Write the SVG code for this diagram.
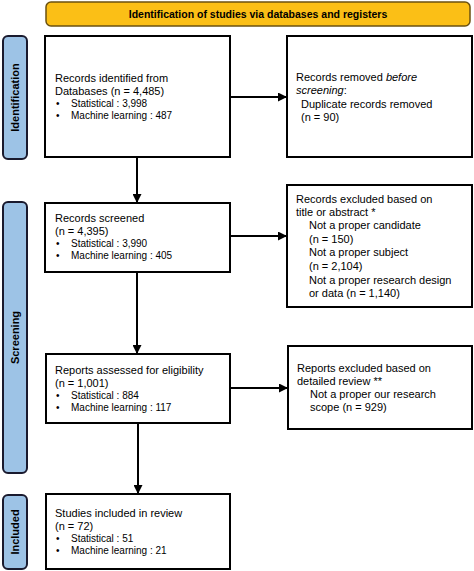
<svg xmlns="http://www.w3.org/2000/svg" width="474" height="571" viewBox="0 0 474 571">
<style>
.box{fill:#fff;stroke:#000;stroke-width:2}
.side{fill:#9DC3E6;stroke:#1a1a2e;stroke-width:2}
.t{font-family:"Liberation Sans",Arial,sans-serif;font-size:11px;fill:#000}
.s{font-family:"Liberation Sans",Arial,sans-serif;font-size:10px;fill:#000}
.b{font-family:"Liberation Sans",Arial,sans-serif;font-weight:bold;fill:#000}
.c{stroke:#000;stroke-width:2;fill:none}
</style>
<defs>
<marker id="ah" viewBox="0 0 10 10" refX="10" refY="5" markerWidth="4.5" markerHeight="4.5" orient="auto" markerUnits="strokeWidth">
<path d="M0,0 L10,5 L0,10 z" fill="#000"/>
</marker>
</defs>
<rect width="474" height="571" fill="#fff"/>
<g id="banner">
<rect x="46" y="2" width="424" height="24" rx="5" fill="#FBBF16" stroke="#6b5210" stroke-width="1.5"/>
<text class="b" x="258" y="18" font-size="10.5" text-anchor="middle">Identification of studies via databases and registers</text>
</g>
<g id="side-identification">
<rect class="side" x="3" y="36" width="24" height="123" rx="5"/>
<text class="b" font-size="11" transform="translate(19,97.5) rotate(-90)" text-anchor="middle">Identification</text>
</g>
<g id="side-screening">
<rect class="side" x="3" y="202" width="24" height="271" rx="5"/>
<text class="b" font-size="11" transform="translate(19,337.5) rotate(-90)" text-anchor="middle">Screening</text>
</g>
<g id="side-included">
<rect class="side" x="3" y="495" width="24" height="74" rx="5"/>
<text class="b" font-size="11" transform="translate(19,532) rotate(-90)" text-anchor="middle">Included</text>
</g>
<g id="connectors">
<line class="c" x1="230" y1="97" x2="287" y2="97" marker-end="url(#ah)"/>
<line class="c" x1="137" y1="157" x2="137" y2="203" marker-end="url(#ah)"/>
<line class="c" x1="230" y1="236" x2="287" y2="236" marker-end="url(#ah)"/>
<line class="c" x1="137" y1="272" x2="137" y2="354" marker-end="url(#ah)"/>
<line class="c" x1="230" y1="388" x2="288" y2="388" marker-end="url(#ah)"/>
<line class="c" x1="138" y1="423" x2="138" y2="494" marker-end="url(#ah)"/>
</g>
<g id="identified">
<rect class="box" x="45" y="36" width="185" height="121"/>
<text class="t" x="55" y="82">Records identified from</text>
<text class="t" x="55" y="95">Databases (n = 4,485)</text>
<text class="s" x="56" y="107">•</text><text class="s" x="71" y="107">Statistical : 3,998</text>
<text class="s" x="56" y="119">•</text><text class="s" x="71" y="119">Machine learning : 487</text>
</g>
<g id="removed">
<rect class="box" x="287" y="36" width="185" height="121"/>
<text class="t" x="296" y="81">Records removed <tspan font-style="italic">before</tspan></text>
<text class="t" x="296" y="94"><tspan font-style="italic">screening</tspan>:</text>
<text class="t" x="301" y="108">Duplicate records removed</text>
<text class="t" x="301" y="121">(n = 90)</text>
</g>
<g id="screened">
<rect class="box" x="45" y="203" width="185" height="69"/>
<text class="t" x="55" y="222">Records screened</text>
<text class="t" x="55" y="235">(n = 4,395)</text>
<text class="s" x="56" y="247">•</text><text class="s" x="71" y="247">Statistical : 3,990</text>
<text class="s" x="56" y="259">•</text><text class="s" x="71" y="259">Machine learning : 405</text>
</g>
<g id="excluded-title">
<rect class="box" x="287" y="185" width="185" height="122"/>
<text class="t" x="296" y="203">Records excluded based on</text>
<text class="t" x="296" y="216">title or abstract *</text>
<text class="t" x="309" y="229">Not a proper candidate</text>
<text class="t" x="309" y="243">(n = 150)</text>
<text class="t" x="309" y="256">Not a proper subject</text>
<text class="t" x="309" y="270">(n = 2,104)</text>
<text class="t" x="309" y="284">Not a proper research design</text>
<text class="t" x="309" y="297">or data (n = 1,140)</text>
</g>
<g id="assessed">
<rect class="box" x="46" y="354" width="184" height="69"/>
<text class="t" x="55" y="374">Reports assessed for eligibility</text>
<text class="t" x="55" y="387">(n = 1,001)</text>
<text class="s" x="56" y="399">•</text><text class="s" x="71" y="399">Statistical : 884</text>
<text class="s" x="56" y="411">•</text><text class="s" x="71" y="411">Machine learning : 117</text>
</g>
<g id="excluded-review">
<rect class="box" x="288" y="346" width="184" height="83"/>
<text class="t" x="297" y="372">Reports excluded based on</text>
<text class="t" x="297" y="385">detailed review **</text>
<text class="t" x="310" y="398">Not a proper our research</text>
<text class="t" x="310" y="411">scope (n = 929)</text>
</g>
<g id="included">
<rect class="box" x="46" y="494" width="184" height="75"/>
<text class="t" x="55" y="517">Studies included in review</text>
<text class="t" x="55" y="530">(n = 72)</text>
<text class="s" x="56" y="542">•</text><text class="s" x="71" y="542">Statistical : 51</text>
<text class="s" x="56" y="554">•</text><text class="s" x="71" y="554">Machine learning : 21</text>
</g>
</svg>
